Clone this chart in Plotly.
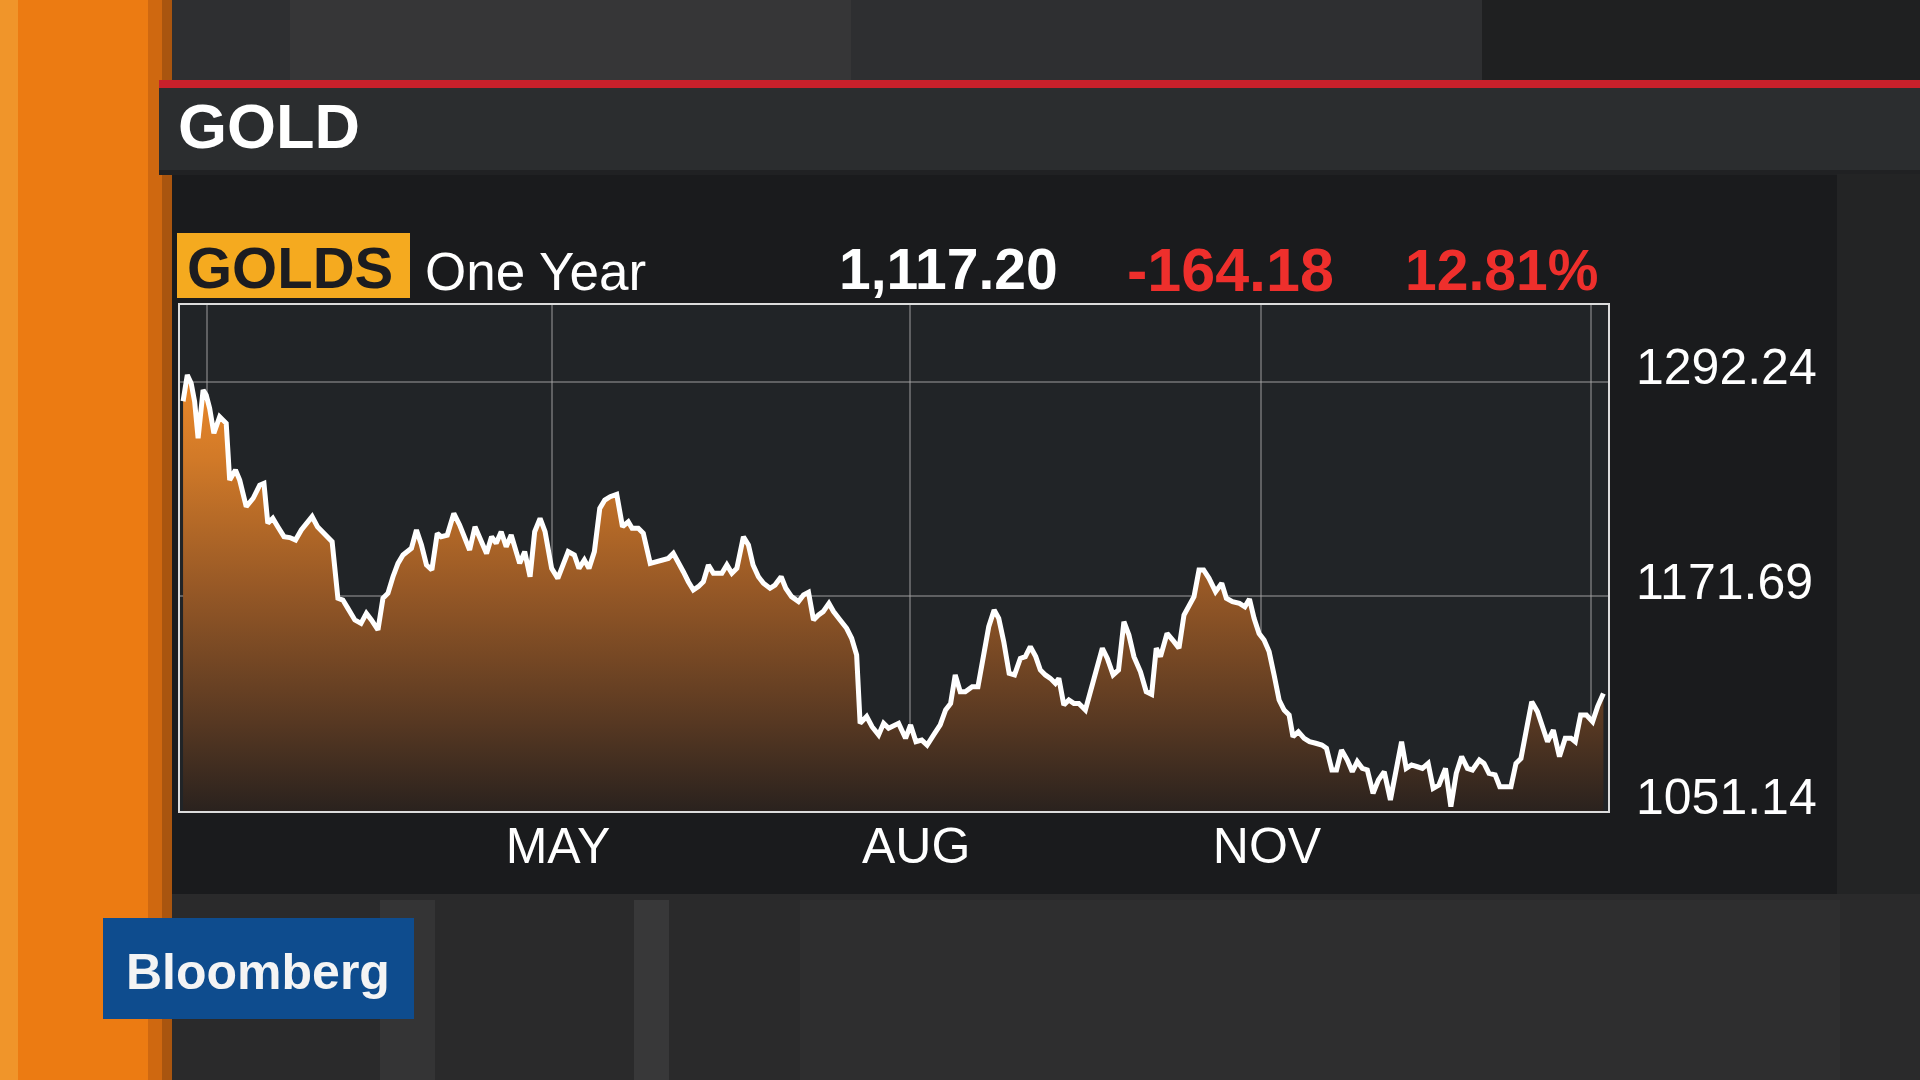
import plotly.graph_objects as go
import pandas as pd

# ---------------- data ----------------
# x: days relative to 2015-02-01, y: GOLDS spot price (USD/oz)
days_feb_apr = [
    -6.2, -5.1, -4.1, -3.2, -2.3, -1.0, -0.2, 0.7, 1.8, 3.3,
    5.0, 5.9, 7.4, 8.5, 10.2, 12.0, 13.7, 14.8, 15.8, 17.1,
    18.4, 20.0, 21.5, 23.0, 24.5, 25.8, 27.3, 28.7, 30.6, 32.5,
    34.0, 35.3, 36.6, 38.4, 40.0, 41.4, 42.7, 44.4, 45.7, 47.0,
    48.3, 49.6, 50.9, 52.2, 53.1, 54.4, 55.7, 57.0, 58.4, 59.8,
    60.8, 62.4, 64.1, 65.6, 66.9, 68.2, 69.6, 70.9, 72.6, 73.9,
    75.1, 76.4, 77.7, 79.0, 79.9, 81.2, 82.5, 83.9, 85.1]
price_feb_apr = [
    1281.4, 1296.2, 1291.5, 1281.2, 1260.6, 1287.7, 1284.9, 1277.4, 1263.4, 1272.7,
    1269.0, 1237.1, 1242.8, 1237.1, 1222.2, 1226.9, 1234.3, 1235.3, 1212.8, 1215.6,
    1210.9, 1205.3, 1204.8, 1203.4, 1209.1, 1212.8, 1216.6, 1210.9, 1206.2, 1202.5,
    1170.7, 1169.7, 1165.0, 1158.5, 1156.6, 1162.2, 1158.5, 1152.9, 1170.7, 1173.5,
    1182.8, 1190.3, 1195.0, 1197.8, 1198.8, 1209.1, 1200.6, 1189.4, 1186.6, 1207.2,
    1205.3, 1206.2, 1218.4, 1211.9, 1205.3, 1197.8, 1210.9, 1204.4, 1195.9, 1205.3,
    1201.6, 1208.1, 1199.7, 1206.2, 1198.8, 1190.3, 1196.9, 1182.8, 1208.1]

days_apr_jul = [
    86.5, 87.8, 89.5, 91.1, 92.1, 93.8, 95.4, 96.6, 98.0, 99.2,
    100.6, 102.0, 103.3, 104.7, 106.4, 107.9, 109.4, 110.4, 112.0, 113.3,
    115.1, 116.8, 118.5, 119.8, 121.1, 122.4, 123.7, 125.0, 126.3, 127.6,
    128.9, 130.2, 131.5, 133.7, 135.0, 136.3, 137.6, 139.3, 140.6, 141.8,
    143.2, 144.5, 146.2, 147.5, 149.1, 150.3, 151.8, 153.6, 154.9, 156.2,
    157.5, 158.8, 160.0, 161.5, 162.7, 164.4, 166.1, 167.4, 168.7, 169.6,
    171.3, 172.7, 174.4, 175.7, 177.0]
price_apr_jul = [
    1215.6, 1208.1, 1187.5, 1181.9, 1187.5, 1196.9, 1195.0, 1187.5, 1192.2, 1187.5,
    1196.9, 1221.2, 1225.9, 1227.8, 1229.1, 1210.9, 1213.7, 1210.0, 1210.0, 1207.2,
    1190.3, 1191.3, 1192.2, 1193.1, 1195.9, 1191.3, 1185.6, 1180.0, 1175.3, 1177.2,
    1180.0, 1189.4, 1184.7, 1184.7, 1189.4, 1184.7, 1187.5, 1205.3, 1200.6, 1189.4,
    1182.8, 1179.1, 1176.3, 1178.1, 1182.8, 1176.3, 1171.6, 1168.8, 1172.5, 1174.0,
    1158.5, 1161.3, 1163.2, 1167.8, 1163.2, 1158.5, 1153.8, 1148.2, 1138.8, 1100.4,
    1104.2, 1098.5, 1093.9, 1100.4, 1097.6]

days_jul_oct = [
    179.6, 181.4, 182.7, 184.1, 185.6, 187.0, 188.7, 190.4, 191.8, 193.1,
    194.3, 195.6, 196.9, 198.7, 200.2, 201.7, 203.0, 204.4, 205.6, 206.9,
    208.3, 209.7, 211.2, 212.5, 213.8, 215.2, 216.4, 217.7, 219.0, 220.3,
    221.2, 222.5, 223.8, 225.1, 226.4, 228.1, 229.4, 230.7, 232.5, 233.8,
    235.3, 236.7, 238.1, 239.4, 240.7, 242.4, 243.9, 245.3, 246.5, 247.6,
    249.3, 251.1, 252.4, 253.7, 255.0, 256.3, 257.6, 258.8, 260.2, 261.9,
    263.5, 264.7, 266.3, 268.1, 269.5, 270.7]
price_jul_oct = [
    1100.4, 1092.0, 1099.5, 1090.1, 1091.0, 1088.2, 1093.9, 1099.5, 1107.9, 1111.6,
    1127.6, 1118.2, 1118.2, 1121.0, 1121.0, 1137.9, 1154.7, 1164.1, 1159.4, 1146.3,
    1128.5, 1127.6, 1136.9, 1137.9, 1143.5, 1137.9, 1130.4, 1127.6, 1125.7, 1122.9,
    1125.7, 1110.7, 1113.5, 1111.6, 1111.6, 1107.9, 1118.2, 1130.4, 1142.6, 1136.9,
    1127.6, 1130.4, 1157.5, 1150.0, 1137.9, 1129.4, 1118.2, 1116.7, 1142.6, 1137.9,
    1150.9, 1146.3, 1142.6, 1161.3, 1166.9, 1171.6, 1186.6, 1186.6, 1181.9, 1174.4,
    1179.1, 1170.7, 1168.8, 1167.8, 1165.9, 1170.3]

days_oct_jan = [
    271.9, 273.2, 274.5, 275.8, 277.1, 278.4, 279.7, 281.0, 282.0, 283.4,
    284.9, 286.3, 287.9, 289.5, 290.7, 292.1, 293.3, 294.6, 296.1, 297.4,
    298.7, 300.0, 301.3, 302.8, 304.2, 305.7, 307.3, 308.7, 310.2, 311.4,
    312.8, 314.3, 315.6, 317.1, 318.4, 319.9, 321.6, 323.0, 324.4, 325.8,
    327.3, 328.6, 330.4, 331.6, 332.9, 334.5, 335.7, 338.6, 339.9, 341.2,
    342.5, 344.0, 345.5, 346.8, 348.1, 349.6, 351.2, 352.7, 354.2, 355.3,
    356.7, 358.2, 359.8, 361.1, 362.6]
price_oct_jan = [
    1159.4, 1150.9, 1147.2, 1140.7, 1127.6, 1113.5, 1107.9, 1105.1, 1092.9, 1095.7,
    1092.0, 1090.1, 1089.2, 1088.2, 1086.4, 1074.2, 1074.2, 1085.4, 1079.8, 1073.2,
    1078.9, 1075.1, 1074.2, 1061.1, 1068.6, 1073.2, 1057.3, 1073.2, 1090.1, 1075.1,
    1077.0, 1076.0, 1075.1, 1077.9, 1063.9, 1065.8, 1075.1, 1053.6, 1072.3, 1081.7,
    1075.1, 1074.2, 1079.8, 1077.9, 1072.3, 1071.4, 1064.8, 1064.8, 1077.9, 1080.7,
    1096.6, 1112.6, 1106.9, 1098.5, 1090.1, 1096.6, 1081.7, 1092.0, 1092.0, 1090.1,
    1105.1, 1105.1, 1101.3, 1109.8, 1117.2]

y_tick_values = [1051.14, 1171.69, 1292.24]
y_tick_labels = ["1051.14", "1171.69", "1292.24"]
# x gridlines (days relative to 2015-02-01): month starts on the chart's trading-day scale
x_tick_days = [0.0, 89.6, 182.6, 273.7, 359.4]
x_tick_labels = ["", "MAY", "AUG", "NOV", ""]

title_text = "GOLD"
ticker_text = "GOLDS"
period_text = "One Year"
last_text = "1,117.20"
change_text = "-164.18"
pct_text = "12.81%"
brand_text = "Bloomberg"

# ---------------- build ----------------
base = pd.Timestamp("2015-02-01")
day_offset = days_feb_apr + days_apr_jul + days_jul_oct + days_oct_jan
price = price_feb_apr + price_apr_jul + price_jul_oct + price_oct_jan
dates = base + pd.to_timedelta(day_offset, unit="D")
tick_dates = base + pd.to_timedelta(x_tick_days, unit="D")

W, H = 1920, 1080
FONT = "Liberation Sans, Arial, Helvetica, sans-serif"


def rect(x0, y0, x1, y1, color):
    return dict(type="rect", xref="paper", yref="paper",
                x0=x0 / W, x1=x1 / W, y0=1 - y1 / H, y1=1 - y0 / H,
                fillcolor=color, line=dict(width=0), layer="below")


fig = go.Figure()
fig.add_trace(go.Scatter(
    x=dates, y=price, mode="lines",
    line=dict(color="#ffffff", width=5),
    fill="tozeroy",
    fillgradient=dict(
        type="vertical", start=1051.14, stop=1300,
        colorscale=[[0.0, "#2a221e"], [0.2, "#573822"], [0.5, "#965826"],
                    [0.8, "#d27a28"], [1.0, "#ee8a2a"]]),
    hoverinfo="skip", showlegend=False,
))

shapes = [
    # left orange bar
    rect(0, 0, 172, 1080, "#ec7b12"),
    rect(0, 0, 18, 1080, "#f0952a"),
    rect(148, 0, 172, 1080, "#cf6810"),
    rect(162, 0, 172, 1080, "#a9550f"),
    # top band
    rect(172, 0, 1920, 81, "#2e2f31"),
    rect(290, 0, 851, 81, "#363637"),
    rect(1482, 0, 1920, 81, "#1f2021"),
    # red rule + header bar
    rect(159, 80, 1920, 88, "#c8202b"),
    rect(159, 88, 1920, 174, "#2b2d2f"),
    rect(159, 170, 1920, 175, "#202123"),
    # right strip
    rect(1837, 174, 1920, 900, "#232425"),
    # bottom band
    rect(172, 894, 1920, 1080, "#2a2a2b"),
    rect(380, 900, 435, 1080, "#343435"),
    rect(634, 900, 669, 1080, "#383839"),
    rect(800, 900, 1840, 1080, "#2e2e2f"),
    # Bloomberg logo box
    rect(103, 918, 414, 1019, "#0e4c8e"),
    # ticker tag
    rect(177, 233, 410, 298, "#f5aa1f"),
]


def ann(text, x, y, size, color, anchor="left", bold=False):
    return dict(text=f"<b>{text}</b>" if bold else text,
                x=x / W, y=1 - y / H, xref="paper", yref="paper",
                xanchor=anchor, yanchor="middle", showarrow=False,
                font=dict(family=FONT, size=size, color=color))


annotations = [
    ann(title_text, 176, 126, 63, "#ffffff", "left", True),
    ann(ticker_text, 290, 268, 58, "#1c1c20", "center", True),
    ann(period_text, 423, 272, 53, "#ffffff", "left"),
    ann(last_text, 948, 269, 57, "#ffffff", "center", True),
    ann(change_text, 1230, 270, 61, "#ee2f2c", "center", True),
    ann(pct_text, 1600, 270, 57, "#ee2f2c", "right", True),
    ann(brand_text, 258, 972, 50, "#f4f4f4", "center", True),
]

x0_range = base + pd.Timedelta(days=-7.0)
x1_range = base + pd.Timedelta(days=363.8)

fig.update_layout(
    width=W, height=H,
    margin=dict(l=0, r=0, t=0, b=0, pad=0, autoexpand=False),
    paper_bgcolor="#1a1b1d",
    plot_bgcolor="#212427",
    shapes=shapes,
    annotations=annotations,
    hovermode=False,
    showlegend=False,
    xaxis=dict(
        domain=[180 / W, 1608 / W],
        range=[x0_range, x1_range],
        type="date", automargin=False,
        tickmode="array", tickvals=tick_dates, ticktext=x_tick_labels,
        showgrid=True, gridcolor="rgba(170,170,170,0.45)", gridwidth=2,
        showline=True, mirror=True, linecolor="#dcdcdc", linewidth=2,
        ticks="", zeroline=False,
        tickfont=dict(family=FONT, size=50, color="#ffffff"),
        ticklabelstandoff=-10, ticklabelshift=6,
    ),
    yaxis=dict(
        domain=[1 - 811 / H, 1 - 305 / H],
        range=[1051.14, 1335.5],
        side="right", automargin=False,
        tickmode="array", tickvals=y_tick_values, ticktext=y_tick_labels,
        showgrid=True, gridcolor="rgba(170,170,170,0.45)", gridwidth=2,
        showline=True, mirror=True, linecolor="#dcdcdc", linewidth=2,
        ticks="", zeroline=False,
        tickfont=dict(family=FONT, size=50, color="#ffffff"),
        ticklabelstandoff=16, ticklabelshift=-15,
    ),
)

fig.write_html("out.html", config={"displayModeBar": False},
               post_script="document.body.style.margin='0px';document.body.style.overflow='hidden';")
